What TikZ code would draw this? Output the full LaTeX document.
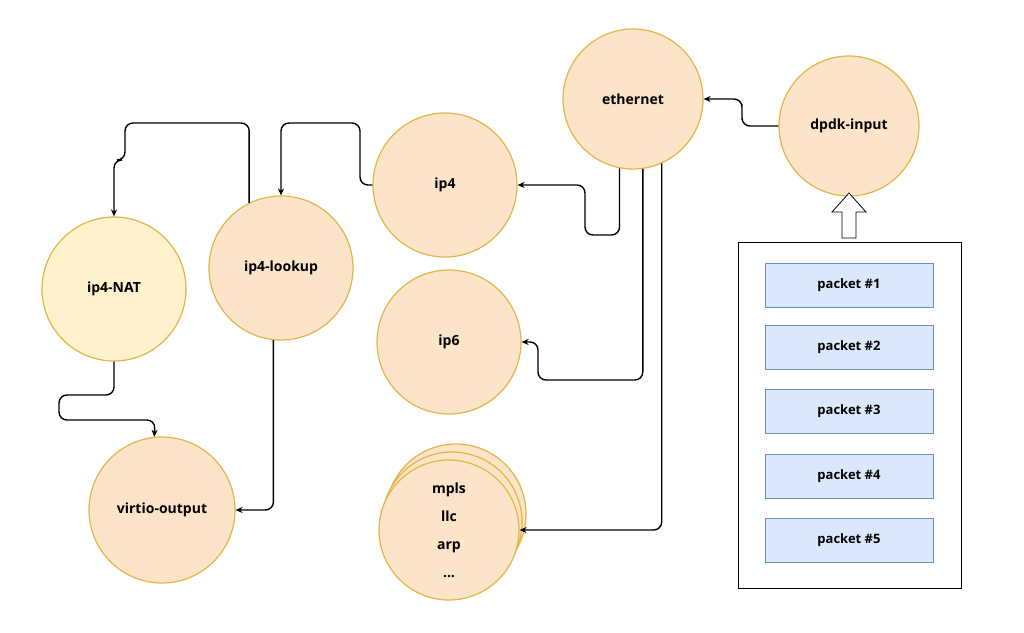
\documentclass[tikz,border=0pt]{standalone}
\usepackage{fontspec}
\setmainfont{Open Sans}
\usetikzlibrary{arrows.meta}
\definecolor{cfill}{HTML}{FCE4C8}
\definecolor{cline}{HTML}{E3B448}
\definecolor{nfill}{HTML}{FFF2CC}
\definecolor{pfill}{HTML}{DAE8FC}
\definecolor{pline}{HTML}{6C8EBF}
\begin{document}
\begin{tikzpicture}[x=1pt,y=-1pt,
  circ/.style={circle,draw=cline,line width=1.2pt,fill=cfill,minimum size=#1,inner sep=0pt,font=\fontsize{14}{16}\selectfont\bfseries},
  pkt/.style={draw=pline,fill=pfill,line width=0.8pt,minimum width=168pt,minimum height=44pt,inner sep=0pt,font=\fontsize{13}{15}\selectfont\bfseries},
  conn/.style={line width=1.4pt,rounded corners=8pt,-{Stealth[length=7pt,width=6pt]}}]
\useasboundingbox (0,0) rectangle (1024,632);
\node[circ=140pt] (eth) at (633,99) {ethernet};
\node[circ=140pt] (dpdk) at (849,126) {dpdk-input};
\node[circ=144pt] (ip4) at (445,185) {ip4};
\node[circ=144pt] (ip6) at (449,342) {ip6};
\node[circ=144pt] (lookup) at (281,268) {ip4-lookup};
\node[circ=144pt,fill=nfill] (nat) at (114,289) {ip4-NAT};
\node[circ=146pt] (virtio) at (162,510) {virtio-output};
\node[circ=140pt] (s1) at (456,514) {};
\node[circ=140pt] (s2) at (452,522) {};
\node[circ=140pt,align=center,font=\fontsize{14}{28}\selectfont\bfseries] (stack) at (449,530) {mpls\\llc\\arp\\...};
\draw[line width=0.8pt] (738,242) rectangle (961,588);
\node[pkt] (p1) at (849,285) {packet \#1};
\node[pkt] (p2) at (849,347) {packet \#2};
\node[pkt] (p3) at (849,411) {packet \#3};
\node[pkt] (p4) at (849,476) {packet \#4};
\node[pkt] (p5) at (849,540) {packet \#5};
\draw[line width=0.8pt,fill=white] (842,238) -- (842,212) -- (832,212) -- (849,193) -- (866,212) -- (856,212) -- (856,238) -- cycle;
\draw[conn] (dpdk.west) -| (742,112) |- (eth.east);
\draw[conn] (eth.-101) |- (585,235) |- (ip4.east);
\draw[conn] (eth.-82) |- (538,380) |- (ip6.east);
\draw[conn] (eth.-66) |- (stack.east);
\draw[conn] (ip4.west) -| (360,123) -| (lookup.north);
\draw[conn] (lookup.116) |- (125,123) |- (114,160) -- (nat.north);
\draw[conn] (nat.south) |- (59,395) |- (155,420) -- (virtio.96);
\draw[conn] (lookup.-96) |- (virtio.east);
\end{tikzpicture}
\end{document}
